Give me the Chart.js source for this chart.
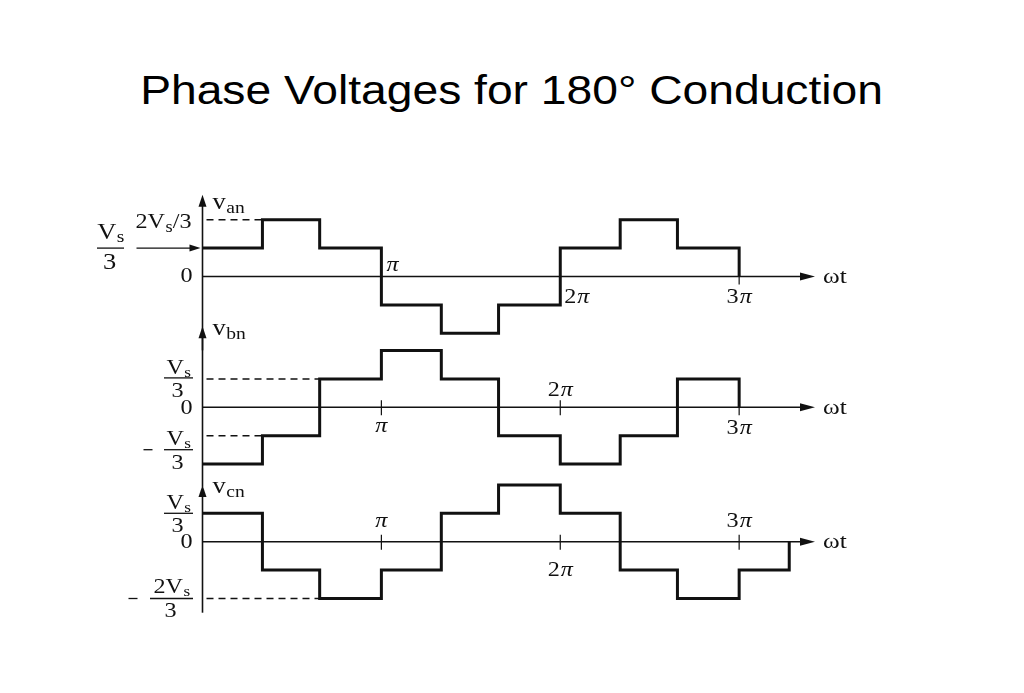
<!DOCTYPE html>
<html><head><meta charset="utf-8">
<script src="https://cdn.jsdelivr.net/npm/chart.js@4.4.1/dist/chart.umd.min.js"></script>
<style>
html,body{margin:0;padding:0;background:#fff;width:1024px;height:693px;overflow:hidden}
#title{position:absolute;left:0;top:66px;width:1024px;text-align:center;font-family:"Liberation Sans",Arial,sans-serif;font-size:40px;line-height:48px;color:#000;white-space:nowrap}
#title span{display:inline-block;transform:scaleX(1.155);transform-origin:center}
canvas{position:absolute;left:0;top:0}
</style></head><body>
<div id="title"><span>Phase Voltages for 180° Conduction</span></div>
<canvas id="cA" width="1024" height="693"></canvas>
<canvas id="cB" width="1024" height="693"></canvas>
<canvas id="cC" width="1024" height="693"></canvas>
<script>
// ---- data (x in multiples of π, levels in multiples of Vs/3) ----
const switchAngles = [0, 0.335, 0.655, 1, 1.335, 1.655, 2, 2.335, 2.655, 3];
const vanLevels = [1, 2, 1, -1, -2, -1, 1, 2, 1, 0];
const vbnLevels = [-2, -1, 1, 2, 1, -1, -2, -1, 1, 0];
const vcnAngles = [0, 0.335, 0.655, 1, 1.335, 1.655, 2, 2.335, 2.655, 3, 3.28];
const vcnLevels = [1, -1, -2, -1, 1, 2, 1, -1, -2, -1, 0];
const piTickValues = [1, 2, 3];
const piTickLabels = ['π', '2π', '3π'];
const seriesNames = ['an', 'bn', 'cn'];
const axisLabel = 'ωt';

const INK = '#111';
const SERIF = '"Liberation Serif","DejaVu Serif",serif';
const SX = 1.15;
const X_MAX = 3.424;
const PX_LEFT = 202.5, PX_RIGHT = 815;
function fnt(px, it) { return (it ? 'italic ' : '') + px + 'px ' + SERIF; }
function tw(ctx, s, size, it) { ctx.font = fnt(size, it); return ctx.measureText(s).width * SX; }
// draw text left-aligned at (x, y) with horizontal stretch
function tx(ctx, s, x, y, size, it, base) {
  ctx.save();
  ctx.font = fnt(size, it); ctx.textAlign = 'left'; ctx.textBaseline = base || 'alphabetic';
  ctx.translate(x, y); ctx.scale(SX, 1); ctx.fillText(s, 0, 0);
  ctx.restore();
}
function drawSubText(ctx, main, sub, x, base, size, subSize, subDrop, align) {
  const w1 = tw(ctx, main, size), w2 = tw(ctx, sub, subSize);
  let left = x;
  if (align === 'center') left = x - (w1 + w2) / 2;
  if (align === 'right') left = x - (w1 + w2);
  tx(ctx, main, left, base, size);
  tx(ctx, sub, left + w1 + 0.5, base + subDrop, subSize);
  return left + w1 + w2 + 0.5;
}
function drawFrac(ctx, prefix, cx, barY, hw, size, numGap) {
  drawSubText(ctx, prefix + 'V', 's', cx, barY - numGap, size, Math.round(size * 0.72), 3, 'center');
  ctx.beginPath(); ctx.lineWidth = 1.3; ctx.moveTo(cx - hw, barY); ctx.lineTo(cx + hw, barY); ctx.stroke();
  const w = tw(ctx, '3', size);
  tx(ctx, '3', cx - w / 2 - 1, barY + size * 0.9, size);
}
function drawPi(ctx, text, x, y, align) {
  const num = text.slice(0, -1);
  const w1 = num ? tw(ctx, num, 21) + 1 : 0;
  const w2 = tw(ctx, 'π', 21, true);
  const left = align === 'left' ? x : x - (w1 + w2) / 2;
  if (num) tx(ctx, num, left, y, 21, false, 'middle');
  tx(ctx, 'π', left + w1, y, 21, true, 'middle');
}

const decor = {
  id: 'decor',
  beforeDatasetsDraw(chart, args, o) {
    const ctx = chart.ctx, a = chart.chartArea, xs = chart.scales.x, ys = chart.scales.y;
    const y0 = ys.getPixelForValue(0);
    ctx.save();
    ctx.strokeStyle = INK; ctx.fillStyle = INK; ctx.lineWidth = 1.6;
    ctx.beginPath(); ctx.moveTo(a.left, a.top + 6); ctx.lineTo(a.left, a.bottom); ctx.stroke();
    ctx.beginPath(); ctx.moveTo(a.left, a.top); ctx.lineTo(a.left - 4, a.top + 12); ctx.lineTo(a.left + 4, a.top + 12); ctx.closePath(); ctx.fill();
    ctx.beginPath(); ctx.moveTo(a.left, y0); ctx.lineTo(a.right - 8, y0); ctx.stroke();
    ctx.beginPath(); ctx.moveTo(a.right, y0); ctx.lineTo(a.right - 15, y0 - 4); ctx.lineTo(a.right - 15, y0 + 4); ctx.closePath(); ctx.fill();
    ctx.lineWidth = 1.2;
    piTickValues.forEach(v => {
      const x = xs.getPixelForValue(v);
      ctx.beginPath(); ctx.moveTo(x, y0 - o.tickUp); ctx.lineTo(x, y0 + 8); ctx.stroke();
    });
    ctx.lineWidth = 1.5; ctx.setLineDash([7, 5]);
    o.dashes.forEach(d => {
      const y = ys.getPixelForValue(d.level);
      ctx.beginPath(); ctx.moveTo(a.left + 4, y); ctx.lineTo(xs.getPixelForValue(d.to), y); ctx.stroke();
    });
    ctx.restore();
  },
  afterDraw(chart, args, o) {
    const ctx = chart.ctx, a = chart.chartArea, xs = chart.scales.x, ys = chart.scales.y;
    const y0 = ys.getPixelForValue(0);
    ctx.save();
    ctx.fillStyle = INK; ctx.strokeStyle = INK;
    // series name v_xx
    drawSubText(ctx, 'v', seriesNames[o.idx], a.left + 10, a.top + o.nameDy, 23, 17, 4, 'left');
    // omega t
    tx(ctx, axisLabel, a.right + 8, y0 + 1, 22, false, 'middle');
    // pi tick labels
    piTickValues.forEach((v, i) => {
      const p = o.piPos[i];
      drawPi(ctx, piTickLabels[i], xs.getPixelForValue(v) + p.dx, y0 + p.dy, p.align);
    });
    // left labels
    o.left.forEach(L => {
      const y = ys.getPixelForValue(L.level);
      if (L.type === 'zero') {
        const w = tw(ctx, '0', 21);
        tx(ctx, '0', a.left + L.dx - w / 2, y + L.dy, 21, false, 'middle');
      } else if (L.type === 'inline') {
        const end = drawSubText(ctx, '2V', 's', a.left + L.dx, y + L.dy, 21, 16, 4, 'left');
        tx(ctx, '/3', end, y + L.dy, 21);
      } else if (L.type === 'frac') {
        if (L.minus) {
          ctx.beginPath(); ctx.lineWidth = 1.3;
          ctx.moveTo(a.left + L.minus[0], y + L.dy); ctx.lineTo(a.left + L.minus[1], y + L.dy); ctx.stroke();
        }
        drawFrac(ctx, L.prefix, a.left + L.dx, y + L.dy, L.hw, L.size, L.numGap);
      } else if (L.type === 'arrow') {
        ctx.beginPath(); ctx.lineWidth = 1.1;
        ctx.moveTo(a.left + L.from, y); ctx.lineTo(a.left - 10, y); ctx.stroke();
        ctx.beginPath(); ctx.moveTo(a.left - 2, y); ctx.lineTo(a.left - 13, y - 3.5); ctx.lineTo(a.left - 13, y + 3.5); ctx.closePath(); ctx.fill();
      }
    });
    ctx.restore();
  }
};

function makeChart(id, xs, ys, p) {
  const unit = p.unit;
  const top = p.zero - p.max * unit, bottom = p.zero - p.min * unit;
  return new Chart(document.getElementById(id), {
    type: 'line',
    data: { datasets: [{
      data: xs.map((x, i) => ({ x: x, y: ys[i] })),
      borderColor: INK, borderWidth: 3, stepped: true, pointRadius: 0,
      fill: false, clip: false, borderJoinStyle: 'miter', borderCapStyle: 'butt'
    }] },
    options: {
      responsive: false, animation: false, devicePixelRatio: 1,
      layout: { padding: { left: PX_LEFT, right: 1024 - PX_RIGHT, top: top, bottom: 693 - bottom } },
      scales: {
        x: { type: 'linear', min: 0, max: X_MAX, display: false },
        y: { type: 'linear', min: p.min, max: p.max, display: false }
      },
      plugins: { legend: { display: false }, tooltip: { enabled: false }, title: { display: false }, decor: p }
    },
    plugins: [decor]
  });
}

makeChart('cA', switchAngles, vanLevels, {
  idx: 0, zero: 276.5, unit: 28.4, max: 2.88, min: -2.6, nameDy: 14, tickUp: 0,
  dashes: [{ level: 2, to: switchAngles[1] }],
  piPos: [{ dx: 5, dy: -11, align: 'left' }, { dx: 4, dy: 21, align: 'left' }, { dx: 0, dy: 21, align: 'center' }],
  left: [
    { type: 'inline', level: 2, dx: -67, dy: 8 },
    { type: 'frac', level: 1, prefix: '', dx: -92, dy: 0, hw: 13.5, size: 23, numGap: 9 },
    { type: 'arrow', level: 1, from: -66 },
    { type: 'zero', level: 0, dx: -16, dy: 0 }
  ]
});
makeChart('cB', switchAngles, vbnLevels, {
  idx: 1, zero: 407.3, unit: 28.4, max: 2.85, min: -2.8, nameDy: 9, tickUp: 7,
  dashes: [{ level: 1, to: switchAngles[2] }, { level: -1, to: switchAngles[1] }],
  piPos: [{ dx: 0, dy: 19, align: 'center' }, { dx: 0, dy: -17, align: 'center' }, { dx: 0, dy: 21, align: 'center' }],
  left: [
    { type: 'frac', level: 1, prefix: '', dx: -24, dy: -1, hw: 14.5, size: 21, numGap: 4 },
    { type: 'zero', level: 0, dx: -16, dy: 1 },
    { type: 'frac', level: -1, prefix: '', dx: -24, dy: 14, hw: 14.5, size: 21, numGap: 5, minus: [-59, -50] }
  ]
});
makeChart('cC', vcnAngles, vcnLevels, {
  idx: 2, zero: 541.7, unit: 28.4, max: 2.0, min: -2.5, nameDy: 8, tickUp: 7,
  dashes: [{ level: -2, to: switchAngles[2] }],
  piPos: [{ dx: 0, dy: -20, align: 'center' }, { dx: 0, dy: 29, align: 'center' }, { dx: 0, dy: -20, align: 'center' }],
  left: [
    { type: 'frac', level: 1, prefix: '', dx: -24, dy: 0, hw: 14.5, size: 21, numGap: 4 },
    { type: 'zero', level: 0, dx: -16, dy: 1 },
    { type: 'frac', level: -2, prefix: '2', dx: -31, dy: 0, hw: 21.5, size: 21, numGap: 6, minus: [-74, -65] }
  ]
});
</script>
</body></html>
